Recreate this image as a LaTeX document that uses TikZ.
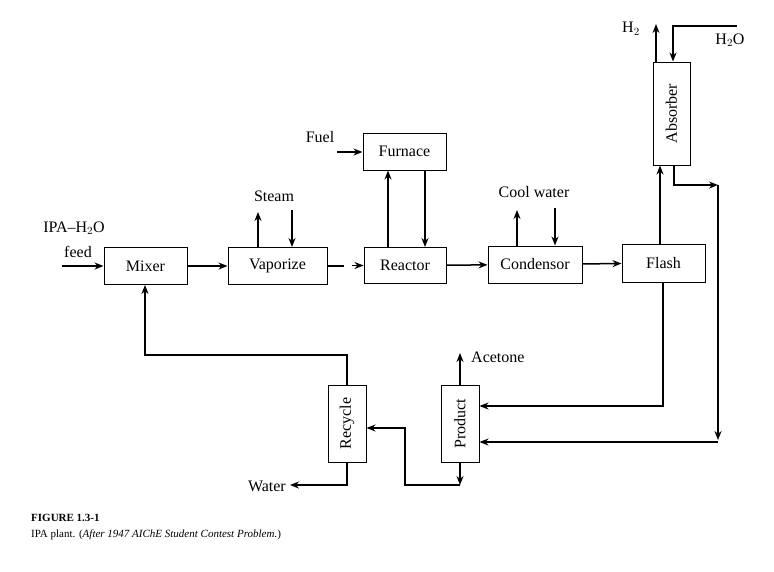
\documentclass[tikz,border=0pt]{standalone}
\usepackage{fontspec}
\setmainfont{Liberation Serif}
\usetikzlibrary{arrows.meta}
\begin{document}
\begin{tikzpicture}[x=1pt,y=-1pt,
 box/.style={draw,line width=1pt,inner sep=0pt,font=\fontsize{16}{18}\selectfont},
 lab/.style={font=\fontsize{16}{18}\selectfont,inner sep=1pt},
 fl/.style={line width=1.5pt,-{Stealth[length=9pt,width=7pt]}},
 ln/.style={line width=1.5pt}]
\useasboundingbox (0,0) rectangle (774,571);
\node[box,minimum width=83pt,minimum height=37pt] (mix) at (145.5,266) {Mixer};
\node[box,minimum width=99pt,minimum height=37pt] (vap) at (277.5,266) {Vaporize};
\node[box,minimum width=82pt,minimum height=36pt] (rea) at (405,265.5) {Reactor};
\node[box,minimum width=83pt,minimum height=37pt] (fur) at (404.5,151.5) {Furnace};
\node[box,minimum width=94pt,minimum height=37pt] (con) at (535,264.5) {Condensor};
\node[box,minimum width=83pt,minimum height=38pt] (fla) at (663.5,263) {Flash};
\node[box,minimum width=37pt,minimum height=103pt] (abs) at (671.5,113.5) {\rotatebox{90}{Absorber}};
\node[box,minimum width=38pt,minimum height=77pt] (rec) at (347,423.5) {\rotatebox{90}{Recycle}};
\node[box,minimum width=38pt,minimum height=77pt] (pro) at (460,423.5) {\rotatebox{90}{Product}};
% feed
\coordinate (feed) at (62,266);
\node[lab] (ipa) at (74,228) {IPA--H$_2$O};
\node[lab] (fd) at (78,252) {feed};
\draw[fl] (feed) -- (mix);
\draw[fl] (mix) -- (vap);
\draw[ln] (vap.east) -- ++(16,0);
\draw[fl] ([xshift=-12pt]rea.west) -- (rea.west);
\draw[fl] (rea) -- (con);
\draw[fl] (con) -- (fla);
% steam
\node[lab] (steam) at (274,196) {Steam};
\draw[fl] (vap.north -| 258,0) -- (258,212);
\draw[fl] (292,210) -- (vap.north -| 292,0);
% fuel
\node[lab] (fuel) at (320,137) {Fuel};
\draw[fl] (337,152) -- (fur.west |- 0,152);
\draw[fl] (rea.north -| 388,0) -- (fur.south -| 388,0);
\draw[fl] (fur.south -| 425,0) -- (rea.north -| 425,0);
% cool water
\node[lab] (cw) at (534,192) {Cool water};
\draw[fl] (con.north -| 517,0) -- (517,210);
\draw[fl] (555,208) -- (con.north -| 555,0);
% flash to absorber
\draw[fl] (fla.north -| 660,0) -- (abs.south -| 660,0);
% H2
\node[lab] (h2) at (631,29) {H$_2$};
\draw[fl] (abs.north -| 656,0) -- (656,24);
\node[lab] (h2o) at (730,40) {H$_2$O};
\draw[fl] (737,26) -- (673,26) -- (abs.north -| 673,0);
% absorber bottom to product
\draw[fl] (abs.south -| 674,0) -- (674,185) -- (718,185);
\draw[fl] (718,185) -- (718,440);
\draw[fl] (718,442) -- (pro.east |- 0,442);
% flash bottom to product
\draw[fl] (fla.south -| 663,0) -- (663,406) -- (pro.east |- 0,406);
% acetone
\node[lab,anchor=west] (ace) at (470,357) {Acetone};
\draw[fl] (pro.north) -- (460,353);
\draw[fl] (pro.south) -- (460,485);
\draw[fl] (460,485) -- (405,485) -- (405,428) -- (rec.east |- 0,428);
% water
\node[lab,anchor=east] (wat) at (287,486) {Water};
\draw[fl] (rec.south) -- (347,485) -- (290,485);
% recycle to mixer
\draw[fl] (rec.north) -- (347,355) -- (145,355) -- (mix.south -| 145,0);
% caption
\node[anchor=west,inner sep=0pt,font=\fontsize{11}{13}\selectfont\bfseries] (cap1) at (31,518) {FIGURE 1.3-1};
\node[anchor=west,inner sep=0pt,font=\fontsize{11}{13}\selectfont] (cap2) at (31,535) {IPA plant. (\textit{After 1947 AIChE Student Contest Problem.})};
\end{tikzpicture}
\end{document}
